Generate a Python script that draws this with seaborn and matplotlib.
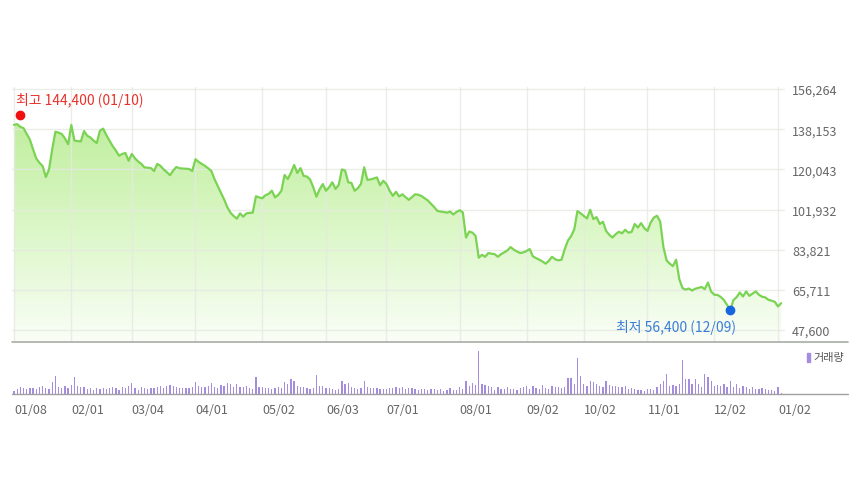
import numpy as np
import pandas as pd
import matplotlib
matplotlib.use('Agg')
import matplotlib.pyplot as plt
import matplotlib.colors as mcolors
from matplotlib.lines import Line2D
import seaborn as sns

# trading calendar (KRX, 2024-01-08 ~ 2025-01-03)
start_date = '2024-01-08'
end_date = '2025-01-03'
holidays = ['2024-02-09', '2024-02-12', '2024-03-01', '2024-04-10', '2024-05-01',
            '2024-05-06', '2024-05-15', '2024-06-06', '2024-08-15', '2024-09-16',
            '2024-09-17', '2024-09-18', '2024-10-01', '2024-10-03', '2024-10-09',
            '2024-12-25', '2024-12-31', '2025-01-01']

# daily close (won)
close_prices = [
    # Jan
    140100, 140400, 139200, 138600, 136000, 133400, 129000, 124900, 123000, 121500,
    116600, 120000, 129000, 137000, 136600, 136000, 134000, 131400,
    # Feb
    140000, 133000, 132800, 132600, 137300, 135200, 134400, 133000, 131900, 137500,
    138400, 135500, 133000, 130500, 128500, 126200, 127000, 127400, 123900,
    # Mar
    127000, 125000, 123600, 122500, 120900, 120800, 120600, 119300, 122500, 121600,
    120000, 118800, 117400, 119500, 121100, 120500, 120400, 120300, 120200, 119300,
    # Apr
    124600, 123400, 122500, 121600, 120500, 119300, 115600, 112500, 109500, 106500,
    103000, 100500, 99000, 97800, 100200, 98700, 100200, 100400, 100500, 107900, 107400,
    # May
    107000, 108400, 109000, 110400, 107400, 108500, 110400, 117500, 115700, 118500,
    122000, 118400, 120600, 117100, 116800, 115500, 112000, 107700, 111000, 113400,
    # Jun
    110400, 112000, 114200, 111200, 113000, 120000, 119500, 114200, 113900, 110400,
    111500, 113500, 121000, 115300, 115500, 115900, 116400, 112900, 114900,
    # Jul
    113400, 110400, 108100, 109900, 107800, 108800, 107500, 106300, 107500, 108800,
    108600, 108000, 107000, 106000, 104500, 103000, 101300, 101000, 100800, 100500,
    101000, 99700, 100800,
    # Aug
    101600, 100600, 89300, 92000, 91500, 90000, 80200, 81500, 80600, 82300,
    82000, 81800, 80600, 81800, 82600, 83500, 85000, 83800, 83000, 82300, 82600,
    # Sep
    83200, 84100, 80800, 80000, 79300, 78500, 77500, 78800, 80600, 79500,
    79000, 79300, 84000, 87900, 89900, 93000, 101200, 100200,
    # Oct
    99000, 97900, 101800, 97600, 98500, 95400, 96400, 92300, 90500, 89300,
    90800, 91900, 91200, 92800, 91500, 91800, 95400, 93800, 95800, 93500,
    # Nov
    92300, 96000, 98300, 99100, 96500, 85000, 79000, 77500, 76400, 79300,
    70500, 66500, 65800, 66300, 65400, 66200, 66600, 67000, 66000, 69000, 64900,
    # Dec
    63500, 63400, 62500, 61100, 58900, 56600, 61100, 62400, 64500, 62700,
    65000, 63000, 64000, 65000, 63500, 62600, 62300, 61200, 60800, 60300,
    # Jan 2025
    58200, 59700,
]

# daily volume (thousand shares)
volumes = [
    80, 150, 200, 180, 150, 170, 190, 160, 200, 230, 170, 150, 370, 530, 200, 180, 230, 170,
    260, 500, 250, 200, 210, 150, 180, 120, 170, 160, 190, 150, 180, 200, 170, 130, 210, 190, 230,
    320, 180, 120, 200, 170, 150, 180, 170, 200, 230, 180, 240, 260, 250, 200, 190, 170, 180, 190, 200,
    350, 240, 200, 210, 230, 330, 220, 180, 260, 240, 320, 300, 200, 300, 220, 200, 230, 180, 160, 500, 210,
    200, 170, 190, 160, 180, 220, 190, 350, 300, 450, 400, 250, 220, 200, 190, 150, 170, 580, 240, 230,
    190, 170, 150, 120, 140, 400, 300, 330, 200, 180, 150, 170, 400, 200, 180, 190, 170, 160, 140,
    150, 180, 170, 200, 190, 210, 160, 180, 170, 150, 130, 160, 140, 120, 150, 160, 120, 140, 100, 130,
    170, 130, 110,
    200, 150, 400, 250, 320, 280, 1300, 300, 260, 230, 200, 130, 220, 160, 140, 200, 150, 160, 130, 170, 220,
    240, 140, 250, 170, 150, 280, 180, 160, 230, 200, 210, 180, 200, 470, 470, 300, 1080, 550,
    300, 250, 400, 350, 300, 230, 200, 400, 280, 230, 250, 200, 200, 230, 150, 180, 150, 120, 130, 100,
    160, 150, 120, 200, 300, 400, 600, 250, 280, 250, 300, 1020, 450, 450, 300, 450, 300, 200, 600, 500, 400,
    250, 280, 250, 300, 220, 400, 200, 300, 180, 250, 200, 150, 200, 160, 150, 180, 140, 120, 130, 100,
    200, 30,
]

tick_dates = ['2024-01-08', '2024-02-01', '2024-03-04', '2024-04-01', '2024-05-02', '2024-06-03',
              '2024-07-01', '2024-08-01', '2024-09-02', '2024-10-02', '2024-11-01', '2024-12-02',
              '2025-01-02']
price_ticks = [47600, 65711, 83821, 101932, 120043, 138153, 156264]
high_price, high_date = 144400, '2024-01-10'
low_price, low_date = 56400, '2024-12-09'

days = pd.bdate_range(start_date, end_date)
days = days[~days.isin(pd.to_datetime(holidays))]
pos = {d.strftime('%Y-%m-%d'): i for i, d in enumerate(days)}
df = pd.DataFrame({'idx': np.arange(len(days)), 'close': close_prices, 'volume': volumes})

sns.set_style('white')
plt.rcParams['font.family'] = ['Noto Sans CJK KR', 'DejaVu Sans']

W, H = 860, 485
fig = plt.figure(figsize=(W / 100, H / 100), dpi=100)


def box(x0, y0, x1, y1):
    return [x0 / W, 1 - y1 / H, (x1 - x0) / W, (y1 - y0) / H]


ax = fig.add_axes(box(12, 88, 785, 343))
axv = fig.add_axes(box(12, 343, 785, 395))

xlim = (-0.63, 242.2)
ylim = (42189, 157170)
tick_pos = [pos[d] for d in tick_dates]

# price line with gradient fill
poly = ax.fill_between(df['idx'], df['close'], ylim[0], color='none', lw=0)
cmap = mcolors.LinearSegmentedColormap.from_list('fill', ['#c0ee9e', '#dcf7c8', '#fafef7'])
grad = np.linspace(0, 1, 256).reshape(-1, 1)
im = ax.imshow(grad, cmap=cmap, aspect='auto', origin='upper',
               extent=[xlim[0], xlim[1], ylim[0], 142000], zorder=1)
im.set_clip_path(poly.get_paths()[0], transform=ax.transData)
sns.lineplot(data=df, x='idx', y='close', ax=ax, color='#7bd353', lw=1.6, zorder=3)

ax.set_xlim(*xlim)
ax.set_ylim(*ylim)
ax.set_xticks(tick_pos)
ax.set_yticks(price_ticks)
ax.set_yticklabels([f'{v:,}' for v in price_ticks])
ax.yaxis.tick_right()
ax.tick_params(axis='y', length=0, pad=5, labelsize=9, labelcolor='#666666')
ax.tick_params(axis='x', length=0, labelbottom=False)
ax.grid(True, color='#e6e9e4', lw=1, alpha=0.8)
ax.set_axisbelow(False)
ax.set_xlabel('')
ax.set_ylabel('')
for s in ax.spines.values():
    s.set_visible(False)

# high / low markers
hi, lo = pos[high_date], pos[low_date]
ax.plot(hi, high_price, 'o', color='#ee1111', ms=6, zorder=5, clip_on=False)
ax.annotate(f'최고 {high_price:,} ({high_date[5:7]}/{high_date[8:]})', (hi, high_price),
            xytext=(-3, 11.5), textcoords='offset points', ha='left', va='center',
            fontsize=10, color='#e8312a')
ax.plot(lo, low_price, 'o', color='#1766e0', ms=6, zorder=5, clip_on=False)
ax.annotate(f'최저 {low_price:,} ({low_date[5:7]}/{low_date[8:]})', (lo, low_price),
            xytext=(4, -11.5), textcoords='offset points', ha='right', va='center',
            fontsize=10, color='#3b7dd8')

# volume bars
sns.barplot(x=df['idx'], y=df['volume'], native_scale=True, width=0.4, color='#a48ddc',
            saturation=1, errorbar=None, linewidth=0, ax=axv)
axv.set_xlim(*xlim)
axv.set_ylim(0, 1560)
axv.set_xticks(tick_pos)
axv.set_xticklabels([d[5:7] + '/' + d[8:] for d in tick_dates], ha='left')
axv.tick_params(axis='x', direction='inout', length=5, width=1, color='#999999',
                pad=4, labelsize=9, labelcolor='#666666')
axv.set_yticks([])
axv.set_xlabel('')
axv.set_ylabel('')
for s in axv.spines.values():
    s.set_visible(False)

# separator and baseline
fig.add_artist(Line2D([12 / W, 848 / W], [1 - 343 / H] * 2, color='#a7aea5', lw=1.2))
fig.add_artist(Line2D([12 / W, 848 / W], [1 - 395 / H] * 2, color='#a0a0a0', lw=1))

# volume legend
fig.patches.append(plt.Rectangle((807 / W, 1 - 363 / H), 3 / W, 9 / H, color='#a48ddc',
                                 transform=fig.transFigure, figure=fig))
fig.text(813 / W, 1 - 358 / H, '거래량', fontsize=8, color='#555555', va='center', ha='left')

fig.savefig('out.png', dpi=100)
